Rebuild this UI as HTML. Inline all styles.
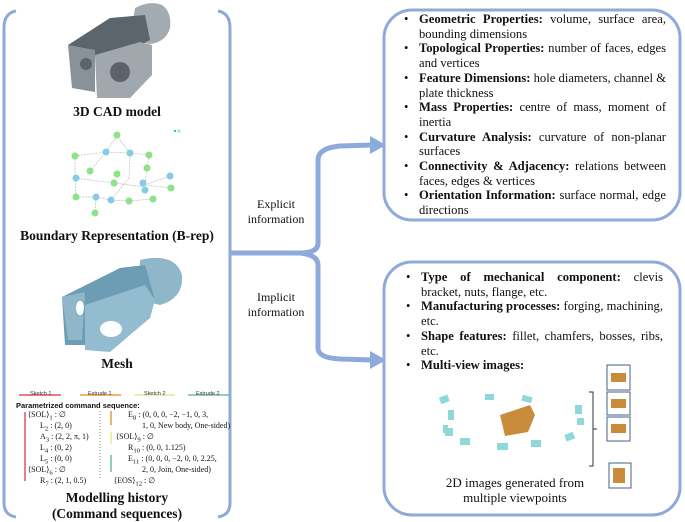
<!DOCTYPE html>
<html><head><meta charset="utf-8"><style>
body{margin:0;width:685px;height:520px;background:#fff;position:relative;overflow:hidden;font-family:"Liberation Serif",serif;color:#111}
.t{position:absolute;font-size:12.6px;line-height:14.7px;text-align:justify}
.t ul{margin:0;padding:0;list-style:none}
.t li{position:relative;padding-left:0}
.t li:before{content:"•";position:absolute;left:-15px}
.c{position:absolute;text-align:center;font-weight:bold;font-size:13.5px;width:226px;left:4px;font-family:"Liberation Serif",serif}
.m{font-family:"Liberation Serif",serif;font-size:8px;position:absolute;white-space:nowrap}
</style></head><body>
<svg width="685" height="520" style="position:absolute;left:0;top:0">
<g fill="none" stroke="#8eaadb" stroke-width="3">
<path d="M16 11 Q4 13 4 28 L4 503 Q4 515 16 517"/>
<path d="M218 11 Q230 13 230 28 L230 503 Q230 515 218 517"/>
<rect x="384" y="10" width="296" height="210" rx="28"/>
<rect x="384" y="262" width="296" height="253" rx="28"/>
</g>
<g fill="none" stroke="#8eaadb" stroke-width="5">
<path d="M230 253 L300 253 Q318 253 318 243 L318 160 Q318 148 340 146 L372 145"/>
<path d="M300 253 Q318 255 318 265 L318 348 Q318 358 340 359 L372 360"/>
</g>
<g fill="#8eaadb"><polygon points="370,136 386,145 370,154"/><polygon points="370,351 386,360 370,369"/></g>
<!-- CAD model -->
<g>
<path d="M135 8 Q150 0 162 5 Q172 12 170 28 Q166 42 150 44 L130 40 Z" fill="#a3aab0"/>
<path d="M68 45 L110 18 L145 15 L150 40 L108 62 Z" fill="#5d656c"/>
<path d="M68 45 L95 50 L95 92 L72 88 Z" fill="#8a9299"/>
<path d="M95 55 L140 42 L152 45 L152 75 L130 98 L97 98 Z" fill="#a0a7ad"/>
<circle cx="120" cy="72" r="10" fill="#5c636a"/><circle cx="86" cy="64" r="6" fill="#5c636a"/>
</g>
<!-- B-rep graph -->
<g stroke="#bbb" stroke-width="0.7" stroke-dasharray="2,1" fill="none">
<path d="M75 156 L106 152 L130 153 L149 155 M106 152 L117 136 L130 153 M75 178 L114 183 L145 187 M76 197 L96 197 L111 200 L129 201 L153 199 M96 197 L95 213 M111 200 L129 178 L130 153 M145 185 L170 176 M149 155 L147 168 L145 185 L171 188 M75 156 L75 178 L76 197 M90 171 L106 152"/>
</g>
<g fill="#8de28a"><circle cx="117" cy="135" r="3.5"/><circle cx="75" cy="156" r="3.5"/><circle cx="149" cy="155" r="3.5"/><circle cx="90" cy="171" r="3.5"/><circle cx="117" cy="174" r="3.5"/><circle cx="147" cy="168" r="3.5"/><circle cx="114" cy="183" r="3.5"/><circle cx="171" cy="188" r="3.5"/><circle cx="76" cy="197" r="3.5"/><circle cx="129" cy="201" r="3.5"/><circle cx="153" cy="199" r="3.5"/><circle cx="95" cy="213" r="3.5"/></g>
<g fill="#84cde6"><circle cx="106" cy="152" r="3.5"/><circle cx="130" cy="153" r="3.5"/><circle cx="76" cy="178" r="3.5"/><circle cx="170" cy="176" r="3.5"/><circle cx="143" cy="183" r="3.5"/><circle cx="145" cy="190" r="3.5"/><circle cx="96" cy="197" r="3.5"/><circle cx="111" cy="200" r="3.5"/></g>
<!-- Mesh -->
<g>
<path d="M140 260 Q175 252 182 275 Q184 298 160 305 L140 300Z" fill="#8fb6c9"/>
<path d="M62 297 L120 268 L145 265 L155 300 L95 345 L65 345 Z" fill="#6c9db5"/>
<path d="M62 297 L85 292 L82 340 L68 340 Z" fill="#8fb6c9"/>
<path d="M85 305 L145 285 L155 300 L150 318 L110 352 L85 350 Z" fill="#93bcd0"/>
<ellipse cx="111" cy="329" rx="11" ry="8" fill="#fff"/><ellipse cx="80" cy="308" rx="4" ry="7" fill="#fff"/>
</g>
<!-- sketch colour lines -->
<g stroke-width="1.5"><line x1="19" y1="395" x2="61" y2="395" stroke="#e8505b"/><line x1="80" y1="395" x2="121" y2="395" stroke="#e89a3c"/><line x1="134" y1="395" x2="175" y2="395" stroke="#ece49a"/><line x1="188" y1="395" x2="229" y2="395" stroke="#6bbfa0"/>
<line x1="25" y1="412" x2="25" y2="481" stroke="#e8505b"/><line x1="100" y1="411" x2="100" y2="478" stroke="#888" stroke-dasharray="1,2" stroke-width="1"/>
<line x1="111" y1="411" x2="111" y2="425" stroke="#e89a3c"/><line x1="111" y1="432" x2="111" y2="444" stroke="#ece49a"/><line x1="111" y1="455" x2="111" y2="472" stroke="#6bbfa0"/></g>
<!-- multiview -->
<g fill="#8fd8d8"><rect x="440" y="396" width="9" height="7" transform="rotate(-20 444 400)"/><rect x="485" y="394" width="9" height="6"/><rect x="522" y="396" width="10" height="6" transform="rotate(15 527 399)"/><rect x="448" y="410" width="6" height="10"/><rect x="443" y="425" width="5" height="8"/><rect x="445" y="428" width="8" height="8"/><rect x="460" y="438" width="10" height="7"/><rect x="497" y="443" width="11" height="7"/><rect x="531" y="440" width="10" height="7"/><rect x="565" y="433" width="9" height="7" transform="rotate(-20 570 436)"/><rect x="577" y="418" width="7" height="7"/><rect x="575" y="405" width="7" height="9"/></g>
<path d="M500 415 L530 405 L535 415 L528 432 L505 436 Z" fill="#c98c3a"/>
<g fill="none" stroke="#333" stroke-width="1"><path d="M589 392 L593 392 L593 466 L589 466 M593 429 L597 429"/>
<rect x="607" y="365" width="23" height="25" stroke="#4a5f8a"/><rect x="607" y="392" width="23" height="23" stroke="#4a5f8a"/><rect x="607" y="417" width="23" height="24" stroke="#4a5f8a"/><rect x="609" y="463" width="22" height="25" stroke="#4a5f8a"/></g>
<g fill="#c98c3a"><rect x="611" y="373" width="15" height="9"/><rect x="611" y="399" width="15" height="9"/><rect x="611" y="424" width="15" height="9"/><rect x="613" y="468" width="12" height="15"/></g>
</svg>
<div class="c" style="top:104px">3D CAD model</div>
<div style="position:absolute;left:174px;top:128px;font-size:4px;color:#3ab">■ lg</div>
<div class="c" style="top:228px">Boundary Representation (B-rep)</div>
<div class="c" style="top:356px">Mesh</div>
<div class="c" style="top:490px;line-height:16px">Modelling history<br>(Command sequences)</div>
<div style="position:absolute;top:391px;left:0;font-family:'Liberation Sans',sans-serif;font-size:5.5px;color:#333"><span style="position:absolute;left:30px">Sketch&nbsp;1</span><span style="position:absolute;left:88px">Extrude&nbsp;1</span><span style="position:absolute;left:144px">Sketch&nbsp;2</span><span style="position:absolute;left:196px">Extrude&nbsp;2</span></div>
<div style="position:absolute;left:16px;top:401px;font-family:'Liberation Sans',sans-serif;font-weight:bold;font-size:7.5px">Parametrized command sequence:</div>
<div class="m" style="left:28px;top:410px">⟨SOL⟩<sub>1</sub> : ∅</div>
<div class="m" style="left:40px;top:421px">L<sub>2</sub> : (2, 0)</div>
<div class="m" style="left:40px;top:432px">A<sub>3</sub> : (2, 2, π, 1)</div>
<div class="m" style="left:40px;top:443px">L<sub>4</sub> : (0, 2)</div>
<div class="m" style="left:40px;top:454px">L<sub>5</sub> : (0, 0)</div>
<div class="m" style="left:28px;top:465px">⟨SOL⟩<sub>6</sub> : ∅</div>
<div class="m" style="left:40px;top:476px">R<sub>7</sub> : (2, 1, 0.5)</div>
<div class="m" style="left:128px;top:410px">E<sub>8</sub> : (0, 0, 0, −2, −1, 0, 3,</div>
<div class="m" style="left:142px;top:421px">1, 0, New body, One-sided)</div>
<div class="m" style="left:116px;top:432px">⟨SOL⟩<sub>9</sub> : ∅</div>
<div class="m" style="left:128px;top:443px">R<sub>10</sub> : (0, 0, 1.125)</div>
<div class="m" style="left:128px;top:454px">E<sub>11</sub> : (0, 0, 0, −2, 0, 0, 2.25,</div>
<div class="m" style="left:142px;top:465px">2, 0, Join, One-sided)</div>
<div class="m" style="left:114px;top:476px">⟨EOS⟩<sub>12</sub> : ∅</div>
<div style="position:absolute;left:232px;top:197px;width:88px;text-align:center;font-size:12px;line-height:15px">Explicit<br>information</div>
<div style="position:absolute;left:232px;top:290px;width:88px;text-align:center;font-size:12px;line-height:15px">Implicit<br>information</div>
<div class="t" style="left:419px;top:12px;width:247px"><ul>
<li><b>Geometric Properties:</b> volume, surface area, bounding dimensions</li>
<li><b>Topological Properties:</b> number of faces, edges and vertices</li>
<li><b>Feature Dimensions:</b> hole diameters, channel &amp; plate thickness</li>
<li><b>Mass Properties:</b> centre of mass, moment of inertia</li>
<li><b>Curvature Analysis:</b> curvature of non-planar surfaces</li>
<li><b>Connectivity &amp; Adjacency:</b> relations between faces, edges &amp; vertices</li>
<li><b>Orientation Information:</b> surface normal, edge directions</li></ul></div>
<div class="t" style="left:421px;top:270px;width:242px"><ul>
<li><b>Type of mechanical component:</b> clevis bracket, nuts, flange, etc.</li>
<li><b>Manufacturing processes:</b> forging, machining, etc.</li>
<li><b>Shape features:</b> fillet, chamfers, bosses, ribs, etc.</li>
<li><b>Multi-view images:</b></li></ul></div>
<div style="position:absolute;left:440px;top:475px;width:150px;text-align:center;font-size:13px;line-height:15px">2D images generated from multiple viewpoints</div>
</body></html>
